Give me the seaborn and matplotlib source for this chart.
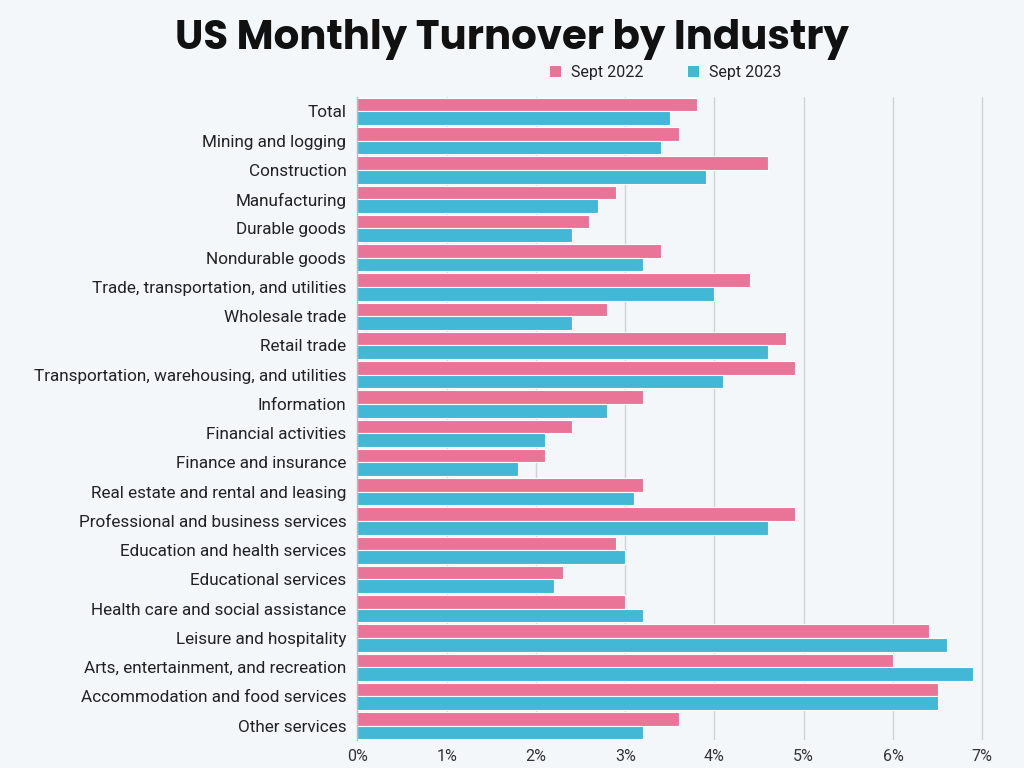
import matplotlib
matplotlib.use("Agg")
import matplotlib.pyplot as plt
import seaborn as sns
import pandas as pd
from matplotlib.ticker import PercentFormatter
from matplotlib.patches import Patch

industries = [
    "Total", "Mining and logging", "Construction", "Manufacturing",
    "Durable goods", "Nondurable goods", "Trade, transportation, and utilities",
    "Wholesale trade", "Retail trade", "Transportation, warehousing, and utilities",
    "Information", "Financial activities", "Finance and insurance",
    "Real estate and rental and leasing", "Professional and business services",
    "Education and health services", "Educational services",
    "Health care and social assistance", "Leisure and hospitality",
    "Arts, entertainment, and recreation", "Accommodation and food services",
    "Other services",
]
sept_2022 = [3.8, 3.6, 4.6, 2.9, 2.6, 3.4, 4.4, 2.8, 4.8, 4.9, 3.2, 2.4, 2.1,
             3.2, 4.9, 2.9, 2.3, 3.0, 6.4, 6.0, 6.5, 3.6]
sept_2023 = [3.5, 3.4, 3.9, 2.7, 2.4, 3.2, 4.0, 2.4, 4.6, 4.1, 2.8, 2.1, 1.8,
             3.1, 4.6, 3.0, 2.2, 3.2, 6.6, 6.9, 6.5, 3.2]
series = ["Sept 2022", "Sept 2023"]
colors = ["#ea7398", "#43b8d6"]
x_ticks = [0, 1, 2, 3, 4, 5, 6, 7]

df = pd.DataFrame({
    "industry": industries * 2,
    "rate": sept_2022 + sept_2023,
    "period": [series[0]] * len(industries) + [series[1]] * len(industries),
})

bg = "#f3f7fa"
sns.set_theme(style="white")
plt.rcParams["font.family"] = ["Roboto", "DejaVu Sans"]

fig = plt.figure(figsize=(10.24, 7.68), dpi=100, facecolor=bg)
ax = fig.add_axes([0.349, 0.036, 0.619, 0.838])
ax.set_facecolor(bg)

sns.barplot(data=df, y="industry", x="rate", hue="period", order=industries,
            hue_order=series, palette=colors, orient="h", width=0.93,
            edgecolor="white", linewidth=0.8, saturation=1, ax=ax, legend=False)

ax.set_xlim(0, 7.1)
ax.set_ylim(len(industries) - 0.5, -0.5)
ax.set_xticks(x_ticks)
ax.xaxis.set_major_formatter(PercentFormatter(decimals=0))
ax.grid(axis="x", color="#cfd3d8", linewidth=1)
ax.set_axisbelow(True)
for s in ["top", "right", "bottom"]:
    ax.spines[s].set_visible(False)
ax.spines["left"].set_color("#b8bcc2")
ax.spines["left"].set_linewidth(1)
ax.set_xlabel("")
ax.set_ylabel("")
ax.tick_params(axis="y", length=0, labelsize=12.3, labelcolor="#222222", pad=8)
ax.tick_params(axis="x", length=0, labelsize=11.5, labelcolor="#333333", pad=6)

fig.text(0.5, 0.948, "US Monthly Turnover by Industry", ha="center", va="center",
         fontsize=29, fontweight="bold", color="#111111",
         family=["Poppins", "Inter", "DejaVu Sans"])

handles = [Patch(facecolor=c, edgecolor="none") for c in colors]
fig.legend(handles, series, loc="center", bbox_to_anchor=(0.65, 0.906), ncol=2,
           frameon=False, fontsize=11.5, handlelength=0.7, handleheight=0.7,
           columnspacing=2.8, handletextpad=0.6, labelcolor="#222222")

fig.savefig("out.png", dpi=100, facecolor=bg)
